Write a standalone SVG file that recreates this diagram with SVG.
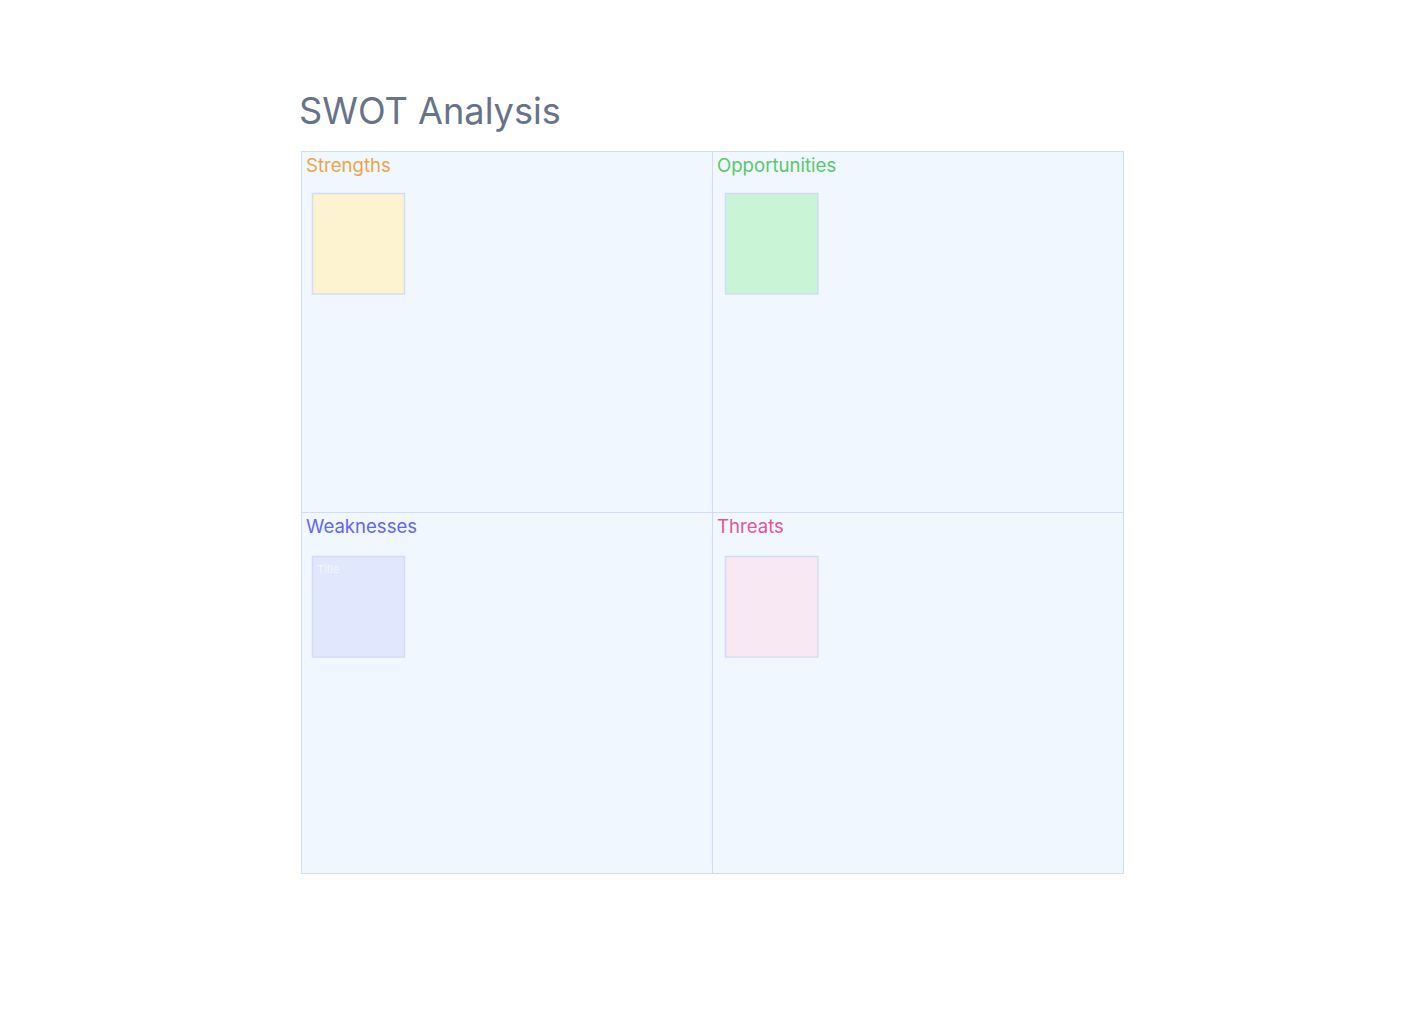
<svg xmlns="http://www.w3.org/2000/svg" width="1418" height="1024" viewBox="0 0 1418 1024">
<style>
.q{fill:#f0f7fe;stroke:#d1dcf7;stroke-width:1}
.lbl{font-family:Inter,"Noto Sans",sans-serif;font-size:18.6px}
.note{stroke:#d3dcf7;stroke-width:1.5}
</style>
<rect width="1418" height="1024" fill="#ffffff"/>
<text x="299" y="124" font-family="Inter,'Noto Sans',sans-serif" font-size="36.2" fill="#667389">SWOT Analysis</text>
<g id="strengths">
<rect class="q" x="301.5" y="151.5" width="411" height="361"/>
<text class="lbl" x="306" y="172" fill="#eea448">Strengths</text>
<rect class="note" x="312.5" y="193.5" width="92" height="100.5" fill="#fdf3d0"/>
</g>
<g id="opportunities">
<rect class="q" x="712.5" y="151.5" width="411" height="361"/>
<text class="lbl" x="717" y="172" fill="#5ac869">Opportunities</text>
<rect class="note" x="725.5" y="193.5" width="92.5" height="100.5" fill="#c9f4d6"/>
</g>
<g id="weaknesses">
<rect class="q" x="301.5" y="512.5" width="411" height="361"/>
<text class="lbl" x="306" y="533" fill="#6466ee">Weaknesses</text>
<rect class="note" x="312.5" y="556.5" width="92" height="100.5" fill="#e1e7fd"/>
<text x="317" y="573" font-family="Inter,'Noto Sans',sans-serif" font-size="11" fill="#f4f6ff">Title</text>
</g>
<g id="threats">
<rect class="q" x="712.5" y="512.5" width="411" height="361"/>
<text class="lbl" x="717" y="533" fill="#e2559a">Threats</text>
<rect class="note" x="725.5" y="556.5" width="92.5" height="100.5" fill="#f7e8f3"/>
</g>
<g id="connectors"></g>
</svg>
